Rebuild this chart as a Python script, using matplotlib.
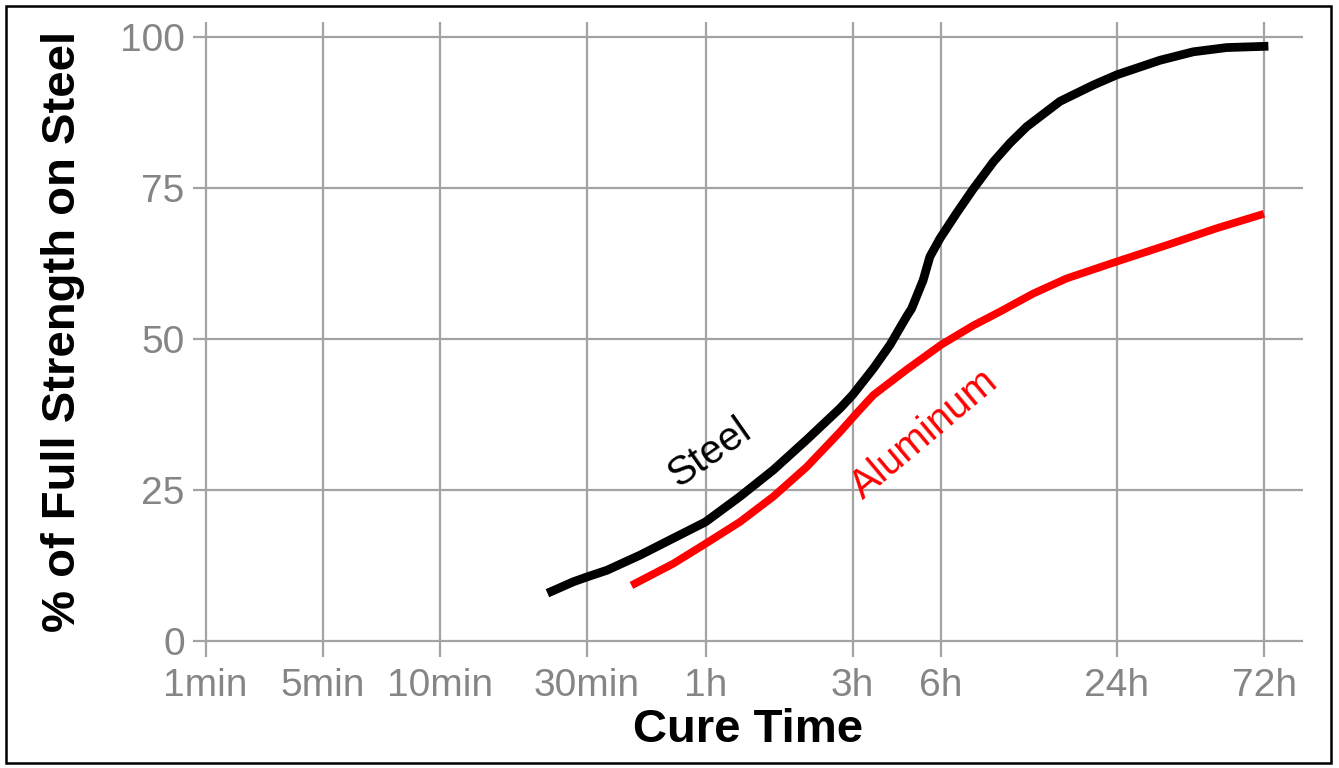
"""
plot.py

Cure-time strength curves for steel and aluminum substrates.
"""

import numpy as np
import matplotlib
matplotlib.use("Agg")
import matplotlib.pyplot as plt
from matplotlib.patches import Rectangle
from matplotlib.ticker import FixedLocator, NullLocator

plt.rcParams["font.family"] = ["Liberation Sans", "DejaVu Sans"]

# --- data (cure time in minutes, strength in %) ---
tick_minutes = [1, 5, 10, 30, 60, 180, 360, 1440, 4320]
tick_labels = ["1min", "5min", "10min", "30min", "1h", "3h", "6h", "24h", "72h"]
y_ticks = [0, 25, 50, 75, 100]

steel_minutes = [23, 27.1, 30, 33.7, 40.9, 49.7, 60, 77.6, 99.6, 127.8, 164,
                 180, 212, 241.5, 275, 286, 313, 330, 357, 407, 464, 544,
                 620, 707, 919, 1195, 1440, 1986, 2548, 3269, 4320]
steel_strength = [8.2, 9.8, 10.6, 11.7, 14.2, 17.0, 19.7, 23.9, 28.3, 33.3,
                  38.5, 40.7, 45.1, 49.0, 53.7, 55.0, 59.7, 63.6, 66.6, 70.8,
                  74.8, 79.3, 82.4, 85.1, 89.3, 92.0, 93.7, 96.1, 97.5, 98.2,
                  98.4]

alu_minutes = [39.7, 49.7, 60, 77.6, 99.6, 127.8, 164, 186, 212, 275, 360,
               464, 573, 745, 969, 1440, 2088, 3034, 4200]
alu_strength = [9.5, 12.8, 16.1, 19.7, 23.9, 28.8, 34.6, 37.7, 40.7, 44.9,
                49.0, 52.2, 54.5, 57.5, 60.0, 62.8, 65.5, 68.3, 70.5]

# --- layout: where each time tick sits along the axis (uneven spacing) ---
TICK_SLOTS = np.array([205.5, 322.5, 440, 587, 705.5, 852.5, 941, 1117, 1264])
TICK_LOG = np.log10(tick_minutes)


def _forward(m):
    lg = np.log10(np.maximum(np.asarray(m, dtype=float), 1e-9))
    pos = np.interp(lg, TICK_LOG, TICK_SLOTS)
    s_lo = (TICK_SLOTS[1] - TICK_SLOTS[0]) / (TICK_LOG[1] - TICK_LOG[0])
    s_hi = (TICK_SLOTS[-1] - TICK_SLOTS[-2]) / (TICK_LOG[-1] - TICK_LOG[-2])
    pos = np.where(lg < TICK_LOG[0], TICK_SLOTS[0] + (lg - TICK_LOG[0]) * s_lo, pos)
    pos = np.where(lg > TICK_LOG[-1], TICK_SLOTS[-1] + (lg - TICK_LOG[-1]) * s_hi, pos)
    return pos


def _inverse(p):
    p = np.asarray(p, dtype=float)
    lg = np.interp(p, TICK_SLOTS, TICK_LOG)
    s_lo = (TICK_LOG[1] - TICK_LOG[0]) / (TICK_SLOTS[1] - TICK_SLOTS[0])
    s_hi = (TICK_LOG[-1] - TICK_LOG[-2]) / (TICK_SLOTS[-1] - TICK_SLOTS[-2])
    lg = np.where(p < TICK_SLOTS[0], TICK_LOG[0] + (p - TICK_SLOTS[0]) * s_lo, lg)
    lg = np.where(p > TICK_SLOTS[-1], TICK_LOG[-1] + (p - TICK_SLOTS[-1]) * s_hi, lg)
    return 10 ** lg


fig = plt.figure(figsize=(13.39, 7.68), dpi=100)
ax = fig.add_axes([193 / 1339, 111 / 768, 1110 / 1339, 635 / 768])

grid_color = "#a3a3a3"
ax.set_xscale("function", functions=(_forward, _inverse))
ax.set_xlim(float(_inverse(193)), float(_inverse(1303)))
ax.set_ylim(-2.65, 102.43)

ax.xaxis.set_major_locator(FixedLocator(tick_minutes))
ax.xaxis.set_minor_locator(NullLocator())
ax.set_xticklabels(tick_labels)
ax.set_yticks(y_ticks)
ax.grid(True, color=grid_color, linewidth=1.6)
ax.set_axisbelow(True)
for spine in ax.spines.values():
    spine.set_visible(False)
ax.tick_params(axis="both", length=0, labelsize=28, labelcolor="#858585")
ax.tick_params(axis="x", pad=8)
ax.tick_params(axis="y", pad=6)

ax.plot(steel_minutes, steel_strength, color="black", linewidth=6.3,
        solid_joinstyle="round")
ax.plot(alu_minutes, alu_strength, color="#ff0000", linewidth=5.6,
        solid_joinstyle="round")

ax.text(61.6, 31.1, "Steel", color="black", fontsize=29, rotation=35,
        ha="center", va="center", rotation_mode="anchor")
ax.text(315, 34.3, "Aluminum", color="#ff0000", fontsize=29, rotation=40,
        ha="center", va="center", rotation_mode="anchor")

ax.set_xlabel("Cure Time", fontsize=34, fontweight="bold", labelpad=3)
ax.set_ylabel("% of Full Strength on Steel", fontsize=34, fontweight="bold")
ax.yaxis.set_label_coords(-0.097, 0.513)

fig.patches.append(Rectangle((6 / 1339, 5 / 768), 1325 / 1339, 757 / 768,
                             transform=fig.transFigure, fill=False,
                             edgecolor="black", linewidth=1.8))

fig.savefig("out.png", dpi=100)
plt.close(fig)
